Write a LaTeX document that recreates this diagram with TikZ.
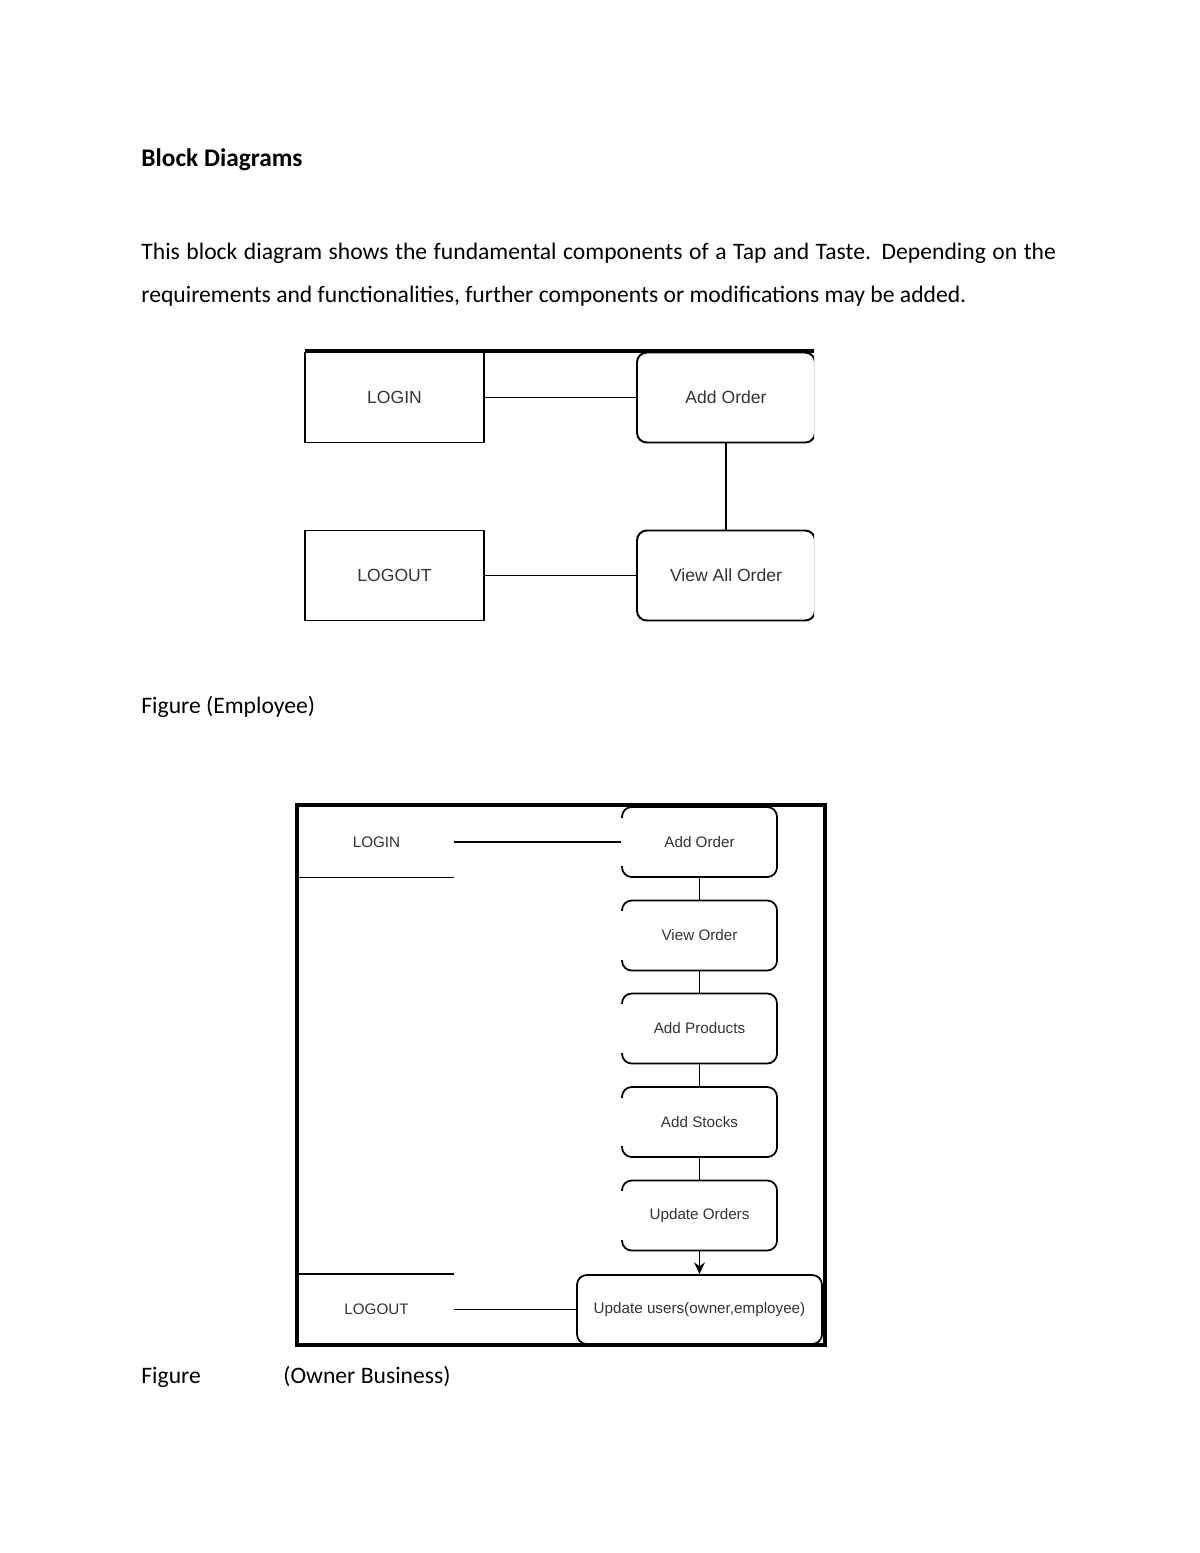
\documentclass[tikz,border=0pt]{standalone}
\usepackage{fontspec}
\setmainfont{Carlito}
\newfontfamily\diafont{Liberation Sans}
\usetikzlibrary{arrows.meta}

\tikzset{
  bodytext/.style={anchor=base west, inner sep=0pt, font=\fontsize{12.1}{15}\selectfont},
  blockA/.style={draw, line width=1pt, minimum width=179*0.018cm, minimum height=90*0.018cm,
    font=\diafont\fontsize{9}{11}\selectfont, text=black!80},
  roundA/.style={blockA, rounded corners=5pt, minimum width=178*0.018cm},
  blockB/.style={minimum width=155*0.018cm, minimum height=70*0.018cm, inner sep=0pt,
    font=\diafont\fontsize{7.8}{9}\selectfont, text=black!80},
  roundB/.style={blockB, draw, line width=0.9pt, rounded corners=5pt},
  link/.style={line width=0.8pt},
}

\begin{document}
\begin{tikzpicture}[x=0.018cm, y=-0.018cm]
\useasboundingbox (0,0) rectangle (1200,1553);

% text of the page
\node[bodytext, font=\bfseries\fontsize{13}{16}\selectfont] (title) at (141,166) {Block Diagrams};
\node[bodytext] (para1) at (141,259) {\makebox[16.47cm][s]{This block diagram shows the fundamental components of a Tap and Taste. Depending on the}};
\node[bodytext] (para2) at (141,302) {requirements and functionalities, further components or modifications may be added.};
\node[bodytext] (capA) at (141,713) {Figure (Employee)};
\node[bodytext] (capB) at (141,1383) {Figure};
\node[bodytext] (capBb) at (283,1383) {(Owner Business)};

% employee diagram
\begin{scope}
\clip (295,340) rectangle (814,630);
\draw[line width=2.5pt] (305,351) -- (816,351);
\node[blockA] (loginA) at (394.5,397.5) {LOGIN};
\node[roundA] (addA) at (726,397.5) {Add Order};
\node[blockA] (logoutA) at (394.5,575.5) {LOGOUT};
\node[roundA] (viewA) at (726,575.5) {View All Order};
\draw[link] (loginA.east) -- (addA.west);
\draw[link] (addA.south) -- (viewA.north);
\draw[link] (logoutA.east) -- (viewA.west);
\end{scope}

% owner business diagram
\draw[line width=1.6pt] (297,805) rectangle (825,1345);
\node[blockB] (loginB) at (376.5,842) {LOGIN};
\node[blockB] (logoutB) at (376.5,1309.5) {LOGOUT};
\node[roundB] (addB) at (699.5,842) {Add Order};
\node[roundB] (viewB) at (699.5,935.5) {View Order};
\node[roundB] (prodB) at (699.5,1028.5) {Add Products};
\node[roundB] (stockB) at (699.5,1122) {Add Stocks};
\node[roundB] (updB) at (699.5,1215.5) {Update Orders};
\node[roundB, minimum width=245*0.018cm, minimum height=69*0.018cm] (usersB) at (699.5,1309.5) {Update users(owner,employee)};
% left sides of the boxes are broken
\foreach \n in {addB,viewB,prodB,stockB,updB}
  \draw[white, line width=1.6pt] ([yshift=-6pt]\n.north west) -- ([yshift=6pt]\n.south west);
\draw[link] (loginB.south west) -- (loginB.south east);
\draw[link] (logoutB.north west) -- (logoutB.north east);
\draw[link] (loginB.east) -- (addB.west);
\draw[link] (logoutB.east) -- (usersB.west);
\draw[link] (addB.south) -- (viewB.north);
\draw[link] (viewB.south) -- (prodB.north);
\draw[link] (prodB.south) -- (stockB.north);
\draw[link] (stockB.south) -- (updB.north);
\draw[link, -{Stealth[length=6pt, width=5.5pt]}] (updB.south) -- (usersB.north);
\end{tikzpicture}
\end{document}
